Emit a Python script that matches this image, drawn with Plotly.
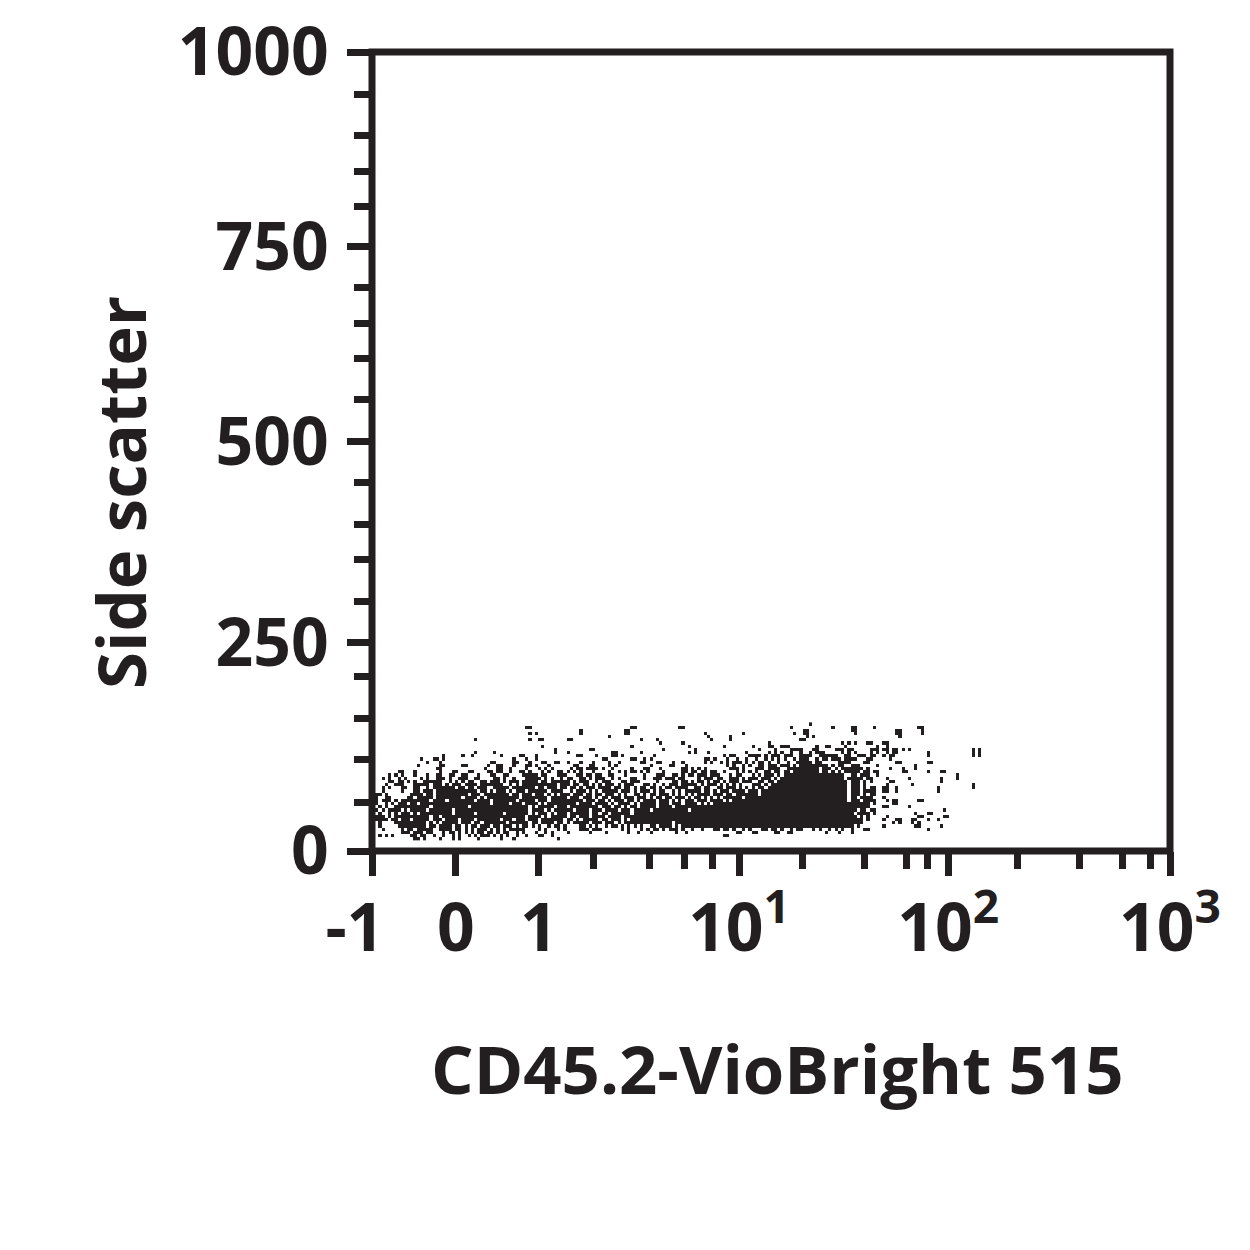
import numpy as np
import plotly.graph_objects as go

INK = '#231f20'
FONT = 'Open Sans'
CELL = 4  # one raster cell, in axis channels
TOP_CHANNEL = 161

# axis channels of the printed ticks (the scales are not even)
x_major_channels = [0, 105, 209, 460, 722, 1000]
x_major_labels = ['-1\u00a0\u00a0', '0', '1', '10<sup>1</sup>', '10<sup>2</sup>', '10<sup>3</sup>']
x_minor_channels = [278, 348, 392, 427, 539, 617, 670, 696, 809, 887, 941, 975]
y_major_channels = [0, 261, 512, 756, 1000]
y_major_labels = ['0', '250', '500', '750', '1000']
y_minor_channels = [61, 114, 166, 218, 312, 365, 409, 461, 565, 617, 660, 705, 807, 851, 895, 947]

# occupied cells of the dot plot, left to right, top row first
rows_left = [
    "",
    "................................................##",
    "",
    ".................................................#",
    "",
    "................................#................#",
    "",
    "",
    "",
    "................................#.....#",
    "......................#.....#..#........#.....##",
    "...............#...##.#.....................#...#",
    ".................#...#...............##.....##...#",
    "..............#......##.....##......#..##...#...##",
    "....................##.............#...##..#....#",
    "........##...#.......#...##...##....##.##..#..##.#",
    ".....#.#.#...#...#..##..##..##...#...##..##....###",
    "...#.#..#.#....#.#..###.#..###..##....##.#..#...##",
    ".....##.##.#.#..######..#.#.#.##..##.###.#.###.###",
    "....#..###...#####.###.#.###.####.#######..#.#.###",
    "...#.#...##..##..#.#######.##.##.###..#####.######",
    "...#.....#...##.###.#############.##.#.###.#.###.#",
    ".##.#.......####.##.##########.###.########.##.###",
    ".#..##.....##.#####.########.####.#.##########.###",
    ".#.###.#.#########.####.########.####.#######.####",
    ".#..#.#.###.##.######################.#####.###.###",
    "..#.#..###########.###########.##################",
    ".#.#.####.#.#####.#######.#######################.",
    "..#..#.#.###.#.##########.######.########.#######",
    ".###.#.###########.##.##########################.#",
    ".####.##.###.#####.###.####.####.#######.###.###.#",
    "..#....##########.#.#.#####.###.##.#######.######",
    "..#.....#########.##.####.##.#.##.###.##.###.#.##",
    "...#.....#.##.#####..####.##.#.#.###.#.#.#.#####.",
    ".........###.###.##...#.##.#.#.#.##.##.#.##..#.#.",
    "..#.#.#.....##.##..#..#..#.#..#.#.###.#.#.#..#..#",
    ".............##.#....#...#.#.....#......#...#....",
]
rows_mid_left = [
    "",
    "...............................##.............##",
    "...............#.............##",
    ".#.............#.............##",
    "........................#",
    "..##.......##.....................#....#",
    "........................................#......#",
    "...#...........................#.................#",
    ".......#..........##.....................#",
    ".......#...#.............##.......#..............#",
    ".#............##....#....##.#.........#",
    ".#....................##.......##..#.#",
    "...##..##..#...#...#....#..#......##...##...#..#",
    ".#...#.......##...##....#.#..........#.....##...#",
    "..#.#.#.....#.##.####.#..#.....#...##...#......##",
    "...#.#..##.#.#.#...#....#..#.#.##.#.#....#.....##",
    "##.##...###...##.##.##..##...#.....#...###..##.#.#",
    "###.#.#..#.##..##.#.###..#.#...##..#..###.###.##.",
    "##.##.######.#.###..#.###...##.###.....#....##.##.",
    "########.###.##.##.#.#.###.#.###...##.#..#.###.###",
    "#.##.###.##.##.#.###.####.##.##.#.##.##.#.##.####.",
    "#####.####..#.###.#.#.#####.###.#.###.#.##..#.#.##",
    ".###.#.#.###.###.##.##.###.#.#..##.#.##.###.#.#.#.",
    "#####.#####.###.###.#.##.###.###.###.#.##.##.###.#",
    "#.###.##########.###.##.#.###.##.#.####.###.#.#.##",
    "##.#.#########.####.####.#.####.#.#####.###.###.##",
    "#.#####.###.#########.###.##.#.##.#####.####.#####",
    "####.#.######.####.###.####.###.#####.###########.",
    "#.###.#.###.######.##.##.######.##################",
    "###.#.#####.##.###.####.####.#####################",
    "##.#######.##.#.#####.##.###.#.###################",
    "##.####.##.#.#####.###.###.#.###############.#####",
    "#.#..#.##.#....##.#.#..#.##.#.#.#.#..##.####.#.###",
    "..#.#...#.#....###.###......#.#...#.#.##.#.###.#..",
    ".#..#.#....#......#....#......#..#...#.......#..#",
    "..##..#",
    "........#",
]
rows_mid_right = [
    ".....................................#",
    "...............................#............#",
    "...................................##",
    "....#...........#...............#..##",
    ".....#......#.......................#.#",
    "......#.....#.....................##",
    "........................#......................#.#",
    "..........#........#....##..###........#..##....#",
    ".#...................#....#....####...##.....###.##",
    ".#...#...........#......#.#.#..#..#..#.###.....#.#",
    "..........#.##....####.#.###.###..####..######..##",
    "....##.#...#..#..#..#..#.#.#.#..#.###..#.##.###.##",
    "....#.#..#.#.###.#.#.##.#..#..#..#####.##.....####",
    "...........#.#..#.#..##.###.###.#.#########.#.##.",
    "#.#.#.......###.#...###.####..##########.###.#.###",
    "##.##.##..#...#.#.#.#..##.##.##.########.##.#.#.###",
    "#.###.###...#.##...#.#.###.#.###################.",
    "..#.###.##..###.#.###.###.#.####################.#",
    "#.##.#.##.#.###.###..##.##.######################",
    "##.#.###.#.#.#.#...###.#.########################",
    ".##.##..##.###.#.#.#.##.#########################",
    "###.##.#.###.####.###.###########################",
    "#.####.###.##.#######.###########################",
    ".##.#.#.#.######.################################",
    "#.###.####.#.####################################",
    "##.#.#.###########################################",
    "##################################################",
    "##################################################",
    "##################################################",
    "##################################################",
    "##################################################",
    "##################################################",
    "##################################################",
    "#..#...##.##.#..#.#...##.##.#..#.##...#.#..#.#.#..",
    "..............##...##.....##..##..........#...#",
    "..........##",
]
rows_right = [
    "",
    "##.....#.............##",
    "##............##......#",
    ".#............##......#",
    "...............#",
    "",
    ".#...##...##",
    "........#..#",
    "#.....###.##.##.#.#...................#.#",
    ".#....#.#..#.##.........#.............#.#",
    "..###.##..#.##..........#.............#.#",
    "##...##.....#",
    "....##........##........##",
    "###.....#...........#",
    "####.#......#...#...#",
    "###.##.##.......##......#...##",
    "##.###..#........................#",
    "####.##....#......#.........#....#",
    "###.#.#.....##..............#",
    "###.#......#.......#..................#",
    "###.#.##..##..#............#..........#",
    "###.####..##..#............#",
    "###.#.##",
    "##.####...#",
    "###.####...#.##......##",
    "######.#.....##",
    "######....##......#",
    "##.##.##.....................#",
    "#.####.#............#...##",
    "##.#.#.....#.........##......##",
    "####.#....#...##...##...#..#",
    "####.........#.#...#.#",
    "#.#.......#.........##......#",
    "#...##..................#",
    "#",
]


def rows_to_array(rows, n_rows=37, n_cols=50):
    cells = np.full((n_rows, n_cols), np.nan)
    for r, row in enumerate(rows):
        for c, ch in enumerate(row[:n_cols]):
            if ch == '#':
                cells[r, c] = 1
    return cells


z = np.hstack([rows_to_array(r) for r in (rows_left, rows_mid_left, rows_mid_right, rows_right)])

fig = go.Figure()
fig.add_trace(go.Heatmap(z=z, x0=CELL / 2, dx=CELL, y0=TOP_CHANNEL - CELL / 2, dy=-CELL,
                         colorscale=[[0, INK], [1, INK]], showscale=False, hoverinfo='skip'))

tick_font = dict(family=FONT, size=66, color=INK, weight=700)
title_font = dict(family=FONT, size=67, color=INK, weight=700)

fig.update_xaxes(range=[0, 1000], showgrid=False, zeroline=False, showline=False, automargin=False,
                 tickmode='array', tickvals=x_major_channels, ticktext=x_major_labels,
                 ticks='outside', ticklen=24, tickwidth=7, tickcolor=INK, tickfont=tick_font,
                 tickangle=0, ticklabelstandoff=-4, ticklabeloverflow='allow',
                 minor=dict(tickmode='array', tickvals=x_minor_channels, ticks='outside',
                            ticklen=17, tickwidth=7, tickcolor=INK, showgrid=False))
fig.update_yaxes(range=[0, 1000], showgrid=False, zeroline=False, showline=False, automargin=False,
                 tickmode='array', tickvals=y_major_channels, ticktext=y_major_labels,
                 ticks='outside', ticklen=24, tickwidth=7, tickcolor=INK, tickfont=tick_font,
                 ticklabelstandoff=5, ticklabeloverflow='allow',
                 minor=dict(tickmode='array', tickvals=y_minor_channels, ticks='outside',
                            ticklen=17, tickwidth=7, tickcolor=INK, showgrid=False))

fig.update_layout(
    width=1234,
    height=1234,
    autosize=False,
    margin=dict(l=364, r=72, t=44, b=391),
    paper_bgcolor='white',
    plot_bgcolor='white',
    showlegend=False,
    shapes=[dict(type='rect', xref='paper', yref='paper', x0=0, x1=1, y0=0, y1=1,
                 line=dict(color=INK, width=7), layer='above')],
    annotations=[
        dict(text='Side scatter', xref='paper', yref='paper', x=-0.315, y=0.449, textangle=-90,
             xanchor='center', yanchor='middle', showarrow=False, font=title_font),
        dict(text='CD45.2-VioBright 515', xref='paper', yref='paper', x=0.508, y=-0.272,
             xanchor='center', yanchor='middle', showarrow=False, font=title_font),
    ],
)

fig.write_html("out.html")
